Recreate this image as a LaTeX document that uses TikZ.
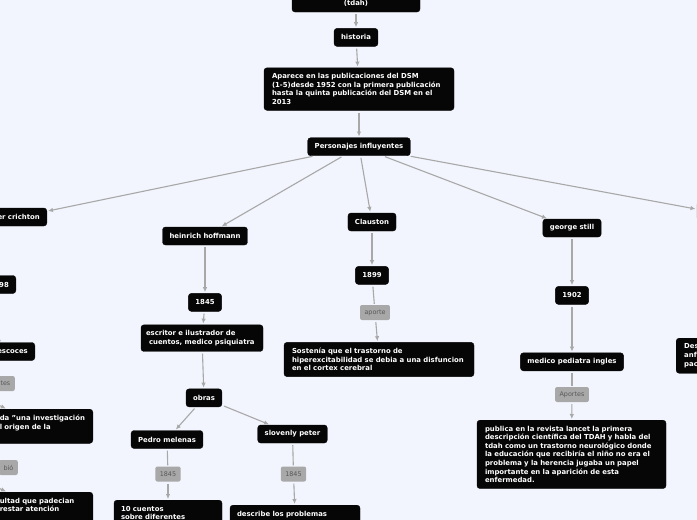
\documentclass[tikz,border=0pt]{standalone}
\usepackage{fontspec}
\setmainfont{DejaVu Sans}
\usetikzlibrary{positioning,arrows.meta}
\definecolor{bg}{RGB}{242,245,253}
\definecolor{box}{RGB}{6,6,6}
\definecolor{tagbg}{RGB}{168,168,168}
\definecolor{tagfg}{RGB}{88,88,88}
\definecolor{wire}{RGB}{168,168,168}
\begin{document}
\begin{tikzpicture}[x=1pt, y=-1pt, >={Latex[length=5pt,width=4.5pt]},
    main/.style = {draw=box, fill=box, rounded corners=3pt, text=white,
      font=\bfseries\fontsize{6.9}{8.6}\selectfont, inner xsep=7pt, minimum height=18pt},
    note/.style = {main, align=left, inner xsep=8pt, inner ysep=5.7pt,
      execute at begin node={\hyphenpenalty10000\relax}},
    tag/.style = {fill=tagbg, rounded corners=2pt, text=tagfg,
      font=\fontsize{6.4}{8}\selectfont, inner xsep=4.5pt, minimum height=15pt},
    wire/.style = {draw=wire, line width=1.1pt, shorten <=2pt, shorten >=1pt}]
        \useasboundingbox (0,0) rectangle (697,520);
        \fill[bg] (0,0) rectangle (697,520);
        \clip (0,0) rectangle (697,520);
        %
        \node[main, minimum width=128pt] (tdah) at (356,3) {(tdah)};
        \node[main] (historia) [below=16pt of tdah] {historia};
        \node[note, text width=174pt] (dsm) [below=21pt of historia, xshift=3pt] {Aparece en las publicaciones del DSM\\(1-5)desde 1952 con la primera publicación\\hasta la quinta publicación del DSM en el\\2013};
        \node[main] (pers) [below=27pt of dsm] {Personajes influyentes};
        %
        \node[main, anchor=east] (crichton) at (47,217) {er crichton};
        \node[main] (hoffmann) at (205,236) {heinrich hoffmann};
        \node[main] (clauston) at (372,222) {Clauston};
        \node[main] (still) at (572,228) {george still};
        \node[draw=wire!70, fill=bg, rounded corners=3pt, minimum width=20pt, minimum height=18pt, anchor=west] (next) at (696.5,211) {};
        %
        \node[main, anchor=east] (n1798) at (16,284.5) {98};
        \node[main, anchor=east] (escoces) at (35,351.5) {escoces};
        \node[tag, anchor=east] (tes) at (15,383.5) {tes};
        \node[note, anchor=north east, text width=86pt, inner xsep=7pt] (invest) at (93,409) {da "una investigación\\l origen de la\\\mbox{}};
        \node[tag, anchor=east] (bio) at (18,467.5) {bió};
        \node[note, anchor=north east, text width=86pt, inner xsep=7pt] (ultad) at (93,492) {ultad que padecian\\restar atención\\\mbox{}};
        %
        \node[main] (n1845) [below=48pt of hoffmann] {1845};
        \node[note, text width=112pt, inner xsep=5pt] (escritor) [below=13pt of n1845, xshift=-3pt] {escritor e ilustrador de\\\hspace{3pt}cuentos, medico psiquiatra};
        \node[main] (obras) [below=37pt of escritor, xshift=2pt] {obras};
        \node[main] (pedro) at (167,439.5) {Pedro melenas};
        \node[main] (slovenly) at (292.5,434) {slovenly peter};
        \node[tag] (t1845a) at (168,474) {1845};
        \node[tag] (t1845b) at (293.5,474) {1845};
        \node[note, anchor=north, text width=94pt, inner xsep=7pt] (cuentos) at (168,500) {10 cuentos\\sobre diferentes};
        \node[note, anchor=north, text width=116pt, inner xsep=7pt] (describe) at (295,505) {describe los problemas};
        %
        \node[main] (n1899) [below=35pt of clauston] {1899};
        \node[tag] (aporte) at (375,312.5) {aporte};
        \node[note, text width=174pt] (sost) at (379,359.5) {Sostenía que el trastorno de\\hiperexcitabilidad se debia a una disfuncion\\en el cortex cerebral};
        %
        \node[main] (n1902) [below=49pt of still] {1902};
        \node[main] (medico) [below=48pt of n1902] {medico pediatra ingles};
        \node[tag] (aportes) at (572,394.5) {Aportes};
        \node[note, anchor=north, text width=173pt] (publica) at (571.5,420) {publica en la revista lancet la primera\\descripción científica del TDAH y habla del\\tdah como un trastorno neurológico donde\\la educación que recibiría el niño no era el\\problema y la herencia jugaba un papel\\importante en la aparición de esta\\enfermedad.};
        \node[note, anchor=north west, text width=60pt] (des) at (676,338) {Des\\anf\\pac};
        %
        \coordinate (a1) at (-10,256);
        \coordinate (a2) at (-20,323);
        \coordinate (a3) at (-35,389);
        \coordinate (a4) at (-35,472);
        %
        \draw[wire, ->] (tdah) -- (historia);
        \draw[wire, ->] (historia) -- (dsm);
        \draw[wire, ->] (dsm) -- (pers);
        \draw[wire, ->] (pers) -- (crichton);
        \draw[wire, ->] (pers) -- (hoffmann);
        \draw[wire, ->] (pers) -- (clauston);
        \draw[wire, ->] (pers) -- (still);
        \draw[wire, ->] (pers) -- (next);
        \draw[wire, ->] (a1) -- (n1798);
        \draw[wire, ->] (a2) -- (escoces);
        \draw[wire, ->] (a3) -- (invest);
        \draw[wire, ->] (a4) -- (ultad);
        \draw[wire, ->] (hoffmann) -- (n1845);
        \draw[wire, ->] (n1845) -- (escritor);
        \draw[wire, ->] (escritor) -- (obras);
        \draw[wire, ->] (obras) -- (pedro);
        \draw[wire, ->] (obras) -- (slovenly);
        \draw[wire] (pedro) -- (t1845a);
        \draw[wire, ->] (t1845a) -- (cuentos);
        \draw[wire] (slovenly) -- (t1845b);
        \draw[wire, ->] (t1845b) -- (describe);
        \draw[wire, ->] (clauston) -- (n1899);
        \draw[wire] (n1899) -- (aporte);
        \draw[wire, ->] (aporte) -- (sost);
        \draw[wire, ->] (still) -- (n1902);
        \draw[wire, ->] (n1902) -- (medico);
        \draw[wire] (medico) -- (aportes);
        \draw[wire, ->] (aportes) -- (publica);
      \end{tikzpicture}
\end{document}
